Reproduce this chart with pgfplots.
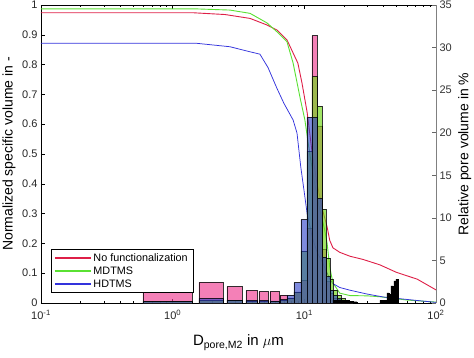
\documentclass[border=0pt]{standalone}
\usepackage{fontspec}
\setmainfont{Liberation Sans}
\usepackage{pgfplots}
\pgfplotsset{compat=1.18}
\definecolor{redc}{rgb}{0.87,0.12,0.28}
\definecolor{greenc}{RGB}{90,225,50}
\definecolor{bluec}{RGB}{50,50,220}
\definecolor{pinkb}{RGB}{238,60,145}
\definecolor{greenb}{RGB}{110,215,20}
\definecolor{blueb}{RGB}{40,60,200}
\pgfplotsset{barstyle/.style={forget plot, line width=0.5pt, draw=black, draw opacity=0.8, y filter/.expression={y/35}}}
\begin{document}
\begin{tikzpicture}
\path[use as bounding box] (-41pt,-54pt) rectangle (433pt,303pt);
\begin{axis}[
  at={(0,0)}, anchor=south west,
  width=395pt, height=298pt, scale only axis,
  xmode=log, xmin=0.1, xmax=100, ymin=0, ymax=1,
  axis y line*=left, ytick pos=left, xtick pos=both,
  xtick={0.1,1,10,100},
  xticklabels={10\textsuperscript{-1},10\textsuperscript{0},10\textsuperscript{1},10\textsuperscript{2}},
  minor xtick={0.2,0.3,0.4,0.5,0.6,0.7,0.8,0.9,2,3,4,5,6,7,8,9,20,30,40,50,60,70,80,90},
  ytick={0,0.1,0.2,0.3,0.4,0.5,0.6,0.7,0.8,0.9,1},
  /pgf/number format/assume math mode=true,
  yticklabel style={/pgf/number format/fixed,/pgf/number format/precision=1},
  xticklabel style={yshift=-4pt},
  tick label style={font=\fontsize{11}{12}\selectfont, text=black!85},
  major tick length=4pt, minor tick length=2pt,
  tick style={line width=0.5pt, black},
  axis line style={line width=0.6pt},
  xlabel={D\textsubscript{pore,M2} in $\mu$m},
  xlabel style={at={(axis description cs:0.5,-0.144)}, anchor=base, font=\fontsize{15}{16}\selectfont},
  ylabel={Normalized specific volume in -},
  ylabel style={at={(axis description cs:-0.081,0.5)}, anchor=center, font=\fontsize{14}{15}\selectfont},
  unbounded coords=jump, filter discard warning=false,
  legend style={at={(0.025,0.034)}, anchor=south west, draw=black, fill=white,
    font=\fontsize{10.8}{12}\selectfont, cells={anchor=west}},
  legend image code/.code={\draw[#1, line width=1.4pt] (0pt,0pt) -- (36pt,0pt);},
]
\addplot[draw=redc, line width=0.9pt] coordinates {
(0.1,0.974)(1.43,0.974)(2.5,0.968)(3.87,0.955)(5.2,0.933)(6.2,0.916)(7.38,0.883)(8.93,0.805)(9.6,0.738)(10.5,0.64)(11.5,0.5)(12.5,0.4)(13.8,0.31)(14.9,0.255)(15.6,0.21)(16.5,0.185)(18.6,0.17)(22.2,0.157)(28,0.146)(37.5,0.128)(50,0.103)(72,0.08)(100,0.044)};
\addlegendentry{No functionalization}
\addplot[draw=greenc, line width=0.9pt] coordinates {
(0.1,0.987)(1.5,0.987)(2.72,0.983)(3.87,0.972)(5.2,0.94)(6.2,0.91)(7.38,0.877)(8.22,0.805)(9.27,0.69)(10.1,0.614)(11,0.5)(12,0.4)(13,0.32)(14.2,0.25)(14.9,0.2)(15.6,0.12)(16.5,0.067)(18.6,0.033)(22.2,0.025)(30,0.024)(37.5,0.021)(60,0.01)(100,0.003)};
\addlegendentry{MDTMS}
\addplot[draw=bluec, line width=0.75pt] coordinates {
(0.1,0.872)(1.48,0.872)(2.72,0.86)(3.87,0.843)(4.6,0.835)(5.3,0.79)(6.2,0.72)(7.0,0.67)(8.22,0.614)(8.8,0.57)(9.4,0.456)(10.0,0.37)(10.5,0.30)(11.5,0.22)(12.5,0.17)(13.6,0.14)(14.6,0.11)(15.6,0.08)(16.5,0.065)(18.6,0.052)(22.2,0.043)(30,0.03)(40,0.02)(60,0.012)(100,0.002)};
\addlegendentry{HDTMS}
% bars, heights in % of the right axis (0-35)
% pink: no functionalization
\addplot[barstyle, fill=pinkb, fill opacity=0.65] coordinates {
(0.595,0)(0.595,4.0)(1.401,4.0)(1.401,0)(1,nan)
(1.584,0)(1.584,2.43)(2.41,2.43)(2.41,0)(1,nan)
(2.585,0)(2.585,1.92)(3.36,1.92)(3.36,0)(1,nan)
(3.60,0)(3.60,1.45)(4.37,1.45)(4.37,0)(1,nan)
(4.52,0)(4.52,1.33)(5.29,1.33)(5.29,0)(1,nan)
(5.48,0)(5.48,1.33)(6.41,1.33)(6.41,0)(1,nan)
(6.53,0)(6.53,0.94)(7.38,0.94)(7.38,0)(1,nan)
(7.38,0)(7.38,0.6)(8.34,0.6)(8.34,0)(1,nan)
(8.34,0)(8.34,1.3)(9.42,1.3)(9.42,0)(1,nan)
(9.42,0)(9.42,2.7)(10.46,2.7)(10.46,0)(1,nan)
(10.46,0)(10.46,8.8)(11.42,8.8)(11.42,0)(1,nan)
(11.42,0)(11.42,31.4)(12.46,31.4)(12.46,0)(1,nan)
(12.46,0)(12.46,20.8)(13.60,20.8)(13.60,0)(1,nan)
(13.60,0)(13.60,6.3)(14.59,6.3)(14.59,0)(1,nan)
(14.59,0)(14.59,2.5)(15.65,2.5)(15.65,0)(1,nan)
(15.65,0)(15.65,1.2)(16.49,1.2)(16.49,0)(1,nan)
(16.49,0)(16.49,0.6)(17.68,0.6)(17.68,0)(1,nan)
(17.68,0)(17.68,0.4)(18.96,0.4)(18.96,0)(1,nan)
(18.96,0)(18.96,0.3)(20.34,0.3)(20.34,0)(1,nan)
(20.34,0)(20.34,0.2)(21.82,0.2)(21.82,0)(1,nan)
(21.82,0)(21.82,0.15)(23.39,0.15)(23.39,0)
};
% green: MDTMS
\addplot[barstyle, fill=greenb, fill opacity=0.65] coordinates {
(0.595,0)(0.595,0.2)(1.401,0.2)(1.401,0)(1,nan)
(1.584,0)(1.584,0.3)(2.41,0.3)(2.41,0)(1,nan)
(2.585,0)(2.585,0.35)(3.36,0.35)(3.36,0)(1,nan)
(3.60,0)(3.60,0.2)(4.37,0.2)(4.37,0)(1,nan)
(4.52,0)(4.52,0.15)(5.29,0.15)(5.29,0)(1,nan)
(5.48,0)(5.48,0.2)(6.41,0.2)(6.41,0)(1,nan)
(6.53,0)(6.53,0.3)(7.38,0.3)(7.38,0)(1,nan)
(7.38,0)(7.38,0.5)(8.34,0.5)(8.34,0)(1,nan)
(8.34,0)(8.34,1.3)(9.42,1.3)(9.42,0)(1,nan)
(9.42,0)(9.42,6.1)(10.46,6.1)(10.46,0)(1,nan)
(10.46,0)(10.46,17.8)(11.42,17.8)(11.42,0)(1,nan)
(11.42,0)(11.42,26.6)(12.46,26.6)(12.46,0)(1,nan)
(12.46,0)(12.46,23.1)(13.60,23.1)(13.60,0)(1,nan)
(13.60,0)(13.60,11.0)(14.59,11.0)(14.59,0)(1,nan)
(14.59,0)(14.59,5.3)(15.65,5.3)(15.65,0)(1,nan)
(15.65,0)(15.65,2.8)(16.49,2.8)(16.49,0)(1,nan)
(16.49,0)(16.49,1.5)(17.68,1.5)(17.68,0)(1,nan)
(17.68,0)(17.68,0.9)(18.96,0.9)(18.96,0)(1,nan)
(18.96,0)(18.96,0.5)(20.34,0.5)(20.34,0)(1,nan)
(20.34,0)(20.34,0.3)(21.82,0.3)(21.82,0)(1,nan)
(21.82,0)(21.82,0.2)(23.39,0.2)(23.39,0)
};
% blue: HDTMS
\addplot[barstyle, fill=blueb, fill opacity=0.6] coordinates {
(0.595,0)(0.595,0.15)(1.401,0.15)(1.401,0)(1,nan)
(1.584,0)(1.584,0.55)(2.41,0.55)(2.41,0)(1,nan)
(2.585,0)(2.585,0.3)(3.36,0.3)(3.36,0)(1,nan)
(3.60,0)(3.60,0.3)(4.37,0.3)(4.37,0)(1,nan)
(4.52,0)(4.52,0.3)(5.29,0.3)(5.29,0)(1,nan)
(5.48,0)(5.48,0.25)(6.41,0.25)(6.41,0)(1,nan)
(6.53,0)(6.53,0.4)(7.38,0.4)(7.38,0)(1,nan)
(7.38,0)(7.38,0.94)(8.34,0.94)(8.34,0)(1,nan)
(8.34,0)(8.34,2.4)(9.42,2.4)(9.42,0)(1,nan)
(9.42,0)(9.42,9.8)(10.46,9.8)(10.46,0)(1,nan)
(10.46,0)(10.46,21.8)(11.42,21.8)(11.42,0)(1,nan)
(11.42,0)(11.42,21.8)(12.46,21.8)(12.46,0)(1,nan)
(12.46,0)(12.46,12.3)(13.60,12.3)(13.60,0)(1,nan)
(13.60,0)(13.60,5.4)(14.59,5.4)(14.59,0)(1,nan)
(14.59,0)(14.59,3.1)(15.65,3.1)(15.65,0)(1,nan)
(15.65,0)(15.65,1.5)(16.49,1.5)(16.49,0)(1,nan)
(16.49,0)(16.49,0.9)(17.68,0.9)(17.68,0)(1,nan)
(17.68,0)(17.68,0.5)(18.96,0.5)(18.96,0)(1,nan)
(18.96,0)(18.96,0.35)(20.34,0.35)(20.34,0)(1,nan)
(20.34,0)(20.34,0.25)(21.82,0.25)(21.82,0)(1,nan)
(21.82,0)(21.82,0.2)(23.39,0.2)(23.39,0)
};
% black
\addplot[barstyle, fill=black, draw opacity=1, line width=0.4pt] coordinates {
(16.49,0)(16.49,0.35)(17.68,0.35)(17.68,0)(1,nan)
(17.68,0)(17.68,0.35)(18.96,0.35)(18.96,0)(1,nan)
(18.96,0)(18.96,0.3)(20.34,0.3)(20.34,0)(1,nan)
(20.34,0)(20.34,0.3)(21.82,0.3)(21.82,0)(1,nan)
(21.82,0)(21.82,0.2)(23.39,0.2)(23.39,0)(1,nan)
(23.39,0)(23.39,0.15)(25.08,0.15)(25.08,0)(1,nan)
(37.5,0)(37.5,0.3)(42.4,0.3)(42.4,0)(1,nan)
(42.4,0)(42.4,1.2)(43.9,1.2)(43.9,0)(1,nan)
(43.9,0)(43.9,1.0)(45.5,1.0)(45.5,0)(1,nan)
(45.5,0)(45.5,2.0)(47.1,2.0)(47.1,0)(1,nan)
(47.1,0)(47.1,1.3)(47.9,1.3)(47.9,0)(1,nan)
(47.9,0)(47.9,2.6)(49.6,2.6)(49.6,0)(1,nan)
(49.6,0)(49.6,2.8)(51.4,2.8)(51.4,0)
};
\end{axis}
\begin{axis}[
  at={(0,0)}, anchor=south west,
  width=395pt, height=298pt, scale only axis,
  xmode=log, xmin=0.1, xmax=100, ymin=0, ymax=35,
  axis x line=none, axis y line*=right,
  ytick={0,5,10,15,20,25,30,35},
  /pgf/number format/assume math mode=true,
  tick label style={font=\fontsize{11}{12}\selectfont, text=black!80},
  major tick length=4pt,
  tick style={line width=0.5pt, black!60},
  axis line style={line width=0.6pt, black!50},
  ylabel={Relative pore volume in \%},
  ylabel style={at={(axis description cs:1.073,0.5)}, anchor=center, font=\fontsize{14}{15}\selectfont},
]
\end{axis}
\end{tikzpicture}
\end{document}
